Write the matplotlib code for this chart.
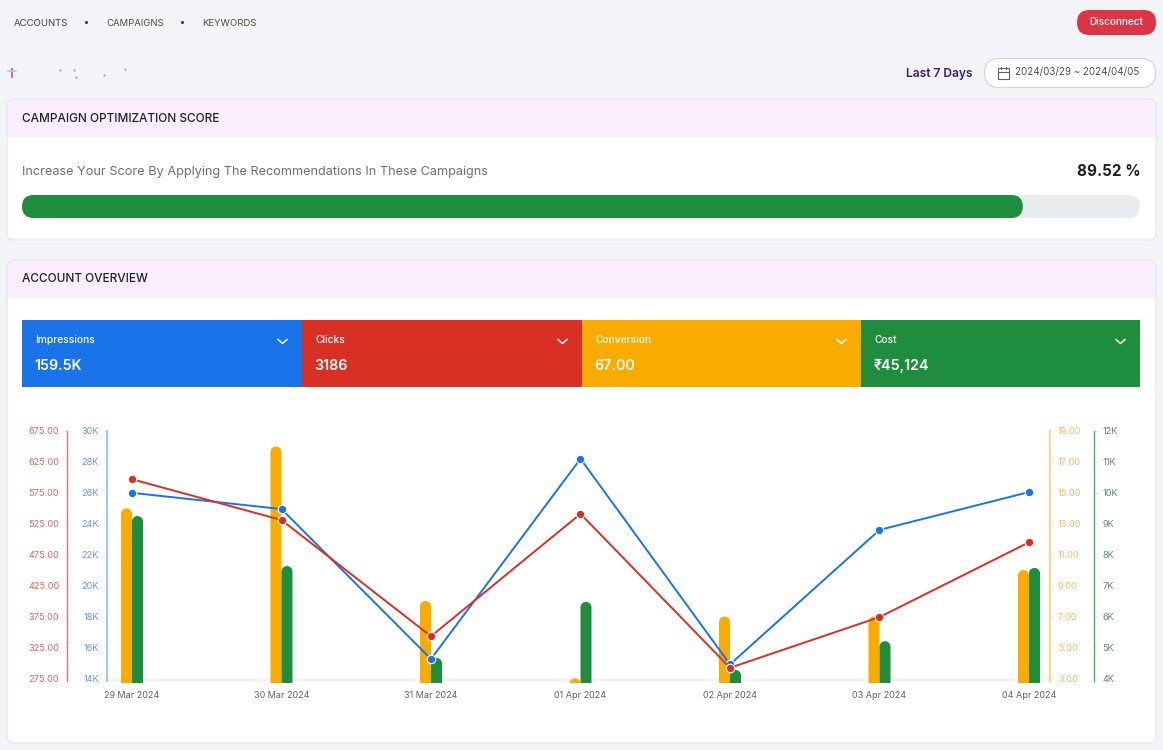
import numpy as np
from matplotlib import pyplot as plt
from matplotlib.patches import FancyBboxPatch, Rectangle

plt.rcParams["font.family"] = ["Inter", "DejaVu Sans"]

dates = ["29 Mar 2024", "30 Mar 2024", "31 Mar 2024", "01 Apr 2024",
         "02 Apr 2024", "03 Apr 2024", "04 Apr 2024"]
impressions = [26.0, 24.95, 15.25, 28.2, 14.9, 23.6, 26.05]
clicks = [597, 531, 343, 541, 292, 374, 495]
conversion = [14, 18, 8, 3, 7, 7, 10]
cost = [9.25, 7.63, 4.66, 6.47, 4.27, 5.2, 7.57]

impr_ticks = [14, 16, 18, 20, 22, 24, 26, 28, 30]
click_ticks = [275, 325, 375, 425, 475, 525, 575, 625, 675]
conv_ticks = [3, 5, 7, 9, 11, 13, 15, 17, 19]
cost_ticks = [4, 5, 6, 7, 8, 9, 10, 11, 12]

kpi_names = ["Impressions", "Clicks", "Conversion", "Cost"]
kpi_values = ["159.5K", "3186", "67.00", "₹45,124"]
score = 89.52

BLUE = "#1a73e8"
RED = "#d93025"
YELLOW = "#f9ab00"
GREEN = "#1e8e3e"
kpi_colors = [BLUE, RED, YELLOW, GREEN]

W, H = 1163, 750
PX = 0.72  # points per pixel at dpi 100

fig = plt.figure(figsize=(W / 100, H / 100), dpi=100, facecolor="#f3f4f8")
bg = fig.add_axes([0, 0, 1, 1], zorder=0)
bg.set_xlim(0, W)
bg.set_ylim(H, 0)
bg.axis("off")


def rbox(x, y, w, h, r, **kw):
    p = FancyBboxPatch((x, y), w, h, boxstyle=f"round,pad=0,rounding_size={r}", **kw)
    bg.add_patch(p)
    return p


def label(x, y, s, size, color="#3c4043", weight="normal", ha="left"):
    # +1: va=center sits a pixel high with this font
    bg.text(x, y + 1, s, fontsize=size * PX, color=color, fontweight=weight, ha=ha, va="center")


def card(y, h, title):
    body = rbox(7, y, 1149, h, 7, facecolor="white", edgecolor="none")
    head = Rectangle((7, y), 1149, 38, facecolor="#f9eefd", edgecolor="none")
    bg.add_patch(head)
    head.set_clip_path(body)
    rbox(7, y, 1149, h, 7, facecolor="none", edgecolor="#e6e3ec", linewidth=0.8)
    label(22, y + 18.5, title, 11.8, "#202124", "medium")


# top bar
label(14, 22, "ACCOUNTS", 9.5, "#3c4043")
label(106, 22, "CAMPAIGNS", 9.5, "#5b4636")
label(202, 22, "KEYWORDS", 9.5, "#5b4636")
bg.plot([86, 182], [21.5, 21.5], "o", ms=1.2, color="#3c4043", ls="none")
rbox(1077, 10, 79, 25, 12.5, facecolor="#dc3545", edgecolor="none")
label(1116.5, 21, "Disconnect", 10, "white", "medium", ha="center")

# logo leftovers and date range
bg.plot([12, 12], [69, 77], color="#e0409a", lw=1.2)
bg.plot([8, 16], [71, 71], color="#8fd4e8", lw=1.2)
bg.plot([60, 74, 76, 104, 125], [70, 70, 77, 75, 69], "o", ms=0.5, color="#8a94a6", ls="none")
label(972, 73, "Last 7 Days", 12, "#3b1a6e", "semibold", ha="right")
rbox(984.5, 58.5, 171, 29, 14.5, facecolor="white", edgecolor="#d2d2da", linewidth=0.8)
bg.add_patch(Rectangle((997.5, 68), 11, 10.5, facecolor="none", edgecolor="#5f6368", linewidth=0.8))
bg.plot([997.5, 1008.5], [71.5, 71.5], color="#5f6368", lw=0.8)
bg.plot([1000.5, 1000.5], [66.5, 69], color="#5f6368", lw=0.8)
bg.plot([1005.5, 1005.5], [66.5, 69], color="#5f6368", lw=0.8)
label(1015, 71.5, "2024/03/29 ~ 2024/04/05", 9.8, "#4a4f57")

# score card
card(99, 141, "CAMPAIGN OPTIMIZATION SCORE")
label(22, 171, "Increase Your Score By Applying The Recommendations In These Campaigns", 12.7, "#6b6f76")
label(1140.5, 170, f"{score:.2f} %", 15.2, "#202124", "bold", ha="right")
rbox(22, 195, 1118, 23, 11.5, facecolor="#e9ecef", edgecolor="none")
rbox(22, 195, 1118 * score / 100, 23, 11.5, facecolor=GREEN, edgecolor="none")

# overview card and kpi tiles
card(260, 483, "ACCOUNT OVERVIEW")
tile_edges = [22, 302, 582, 861, 1140]
for i, name in enumerate(kpi_names):
    x0, x1 = tile_edges[i], tile_edges[i + 1]
    bg.add_patch(Rectangle((x0, 320), x1 - x0, 67, facecolor=kpi_colors[i], edgecolor="none"))
    label(x0 + 13.5, 339, name, 10.2, "white", "medium")
    label(x0 + 12.5, 365, kpi_values[i], 14.3, "white", "semibold")
    bg.plot([x1 - 24, x1 - 19.5, x1 - 15], [339.5, 343.5, 339.5], color="white", lw=1.1)

# chart area
bg.plot([107, 1050], [680, 680], color="#f0f0f2", lw=1.5)

x_left, x_right = 107, 1050
y_top, y_tick_low, y_bottom = 431, 678.3, 683
first_x, step_x = 132, 149.5
bar_w = 11


def make_axis(ticks, fmt, color, side, offset, spine_color, spine_lw, z):
    rect = [x_left / W, 1 - y_bottom / H, (x_right - x_left) / W, (y_bottom - y_top) / H]
    ax = fig.add_axes(rect, zorder=z)
    ax.patch.set_visible(False)
    ax.set_xlim((x_left - first_x) / step_x, (x_right - first_x) / step_x)
    ppu = (y_tick_low - y_top) / (ticks[-1] - ticks[0])
    low = ticks[0] - (y_bottom - y_tick_low) / ppu
    ax.set_ylim(low, ticks[-1])
    for s in ["top", "bottom", "left", "right"]:
        ax.spines[s].set_visible(False)
    sp = ax.spines[side]
    sp.set_visible(True)
    sp.set_position(("outward", offset * PX))
    sp.set_color(spine_color)
    sp.set_linewidth(spine_lw)
    sp.set_bounds(ticks[0] - 2.4 / ppu, ticks[-1])
    ax.yaxis.set_ticks_position(side)
    ax.set_yticks(ticks, [fmt(t) for t in ticks])
    ax.tick_params(axis="y", length=3 * PX, width=0.7, color="#e6e6ea", labelsize=9.2 * PX,
                   labelcolor=color, pad=5 * PX)
    ax.set_xticks([])
    return ax, ppu


def rounded_bars(ax, ppu, values, shift, color):
    # one polygon per bar: square foot, half circle on top, no pixel snapping
    low = ax.get_ylim()[0]
    t = np.linspace(np.pi, 0, 25)
    rx = bar_w / 2 / step_x
    ry = bar_w / 2 / ppu
    for i, v in enumerate(values):
        xc = i + shift / step_x
        xs = np.r_[xc - rx, xc + rx * np.cos(t), xc + rx]
        ys = np.r_[low - ry, v - ry + ry * np.sin(t), low - ry]
        ax.fill(xs, ys, color=color, linewidth=0)


def line_series(ax, values, color):
    ln, = ax.plot(np.arange(len(values)), values, "-", color=color, lw=1.5 * PX * 1.3,
                  marker="o", ms=8.5 * PX, mfc=color, mec="white", mew=0.8)
    ln.set_snap(False)


yellow_ax, yellow_ppu = make_axis(conv_ticks, lambda t: f"{t:.2f}", "#f9b96a", "right", 0, "#fbd98a", 1.6, 1)
green_ax, green_ppu = make_axis(cost_ticks, lambda t: f"{t}K", "#5a8a72", "right", 44.3, "#55ab70", 1.0, 2)
blue_ax, blue_ppu = make_axis(impr_ticks, lambda t: f"{t}K", "#6f93f0", "left", 0, "#8fbaf5", 1.2, 3)
red_ax, red_ppu = make_axis(click_ticks, lambda t: f"{t:.2f}", "#e0685f", "left", 39.7, "#e2746c", 1.0, 4)

rounded_bars(yellow_ax, yellow_ppu, conversion, -5.5, YELLOW)
rounded_bars(green_ax, green_ppu, cost, 5.5, GREEN)
line_series(blue_ax, impressions, BLUE)
line_series(red_ax, clicks, RED)

# fill() autoscales, so put the limits back
for a, tk, p in [(yellow_ax, conv_ticks, yellow_ppu), (green_ax, cost_ticks, green_ppu)]:
    a.set_ylim(tk[0] - (y_bottom - y_tick_low) / p, tk[-1])
    a.set_xlim((x_left - first_x) / step_x, (x_right - first_x) / step_x)

yellow_ax.set_xticks(np.arange(len(dates)), dates)
yellow_ax.tick_params(axis="x", length=0, labelsize=9 * PX, labelcolor="#5f6368", pad=7.5 * PX)

fig.savefig("out.png", dpi=100, facecolor=fig.get_facecolor())
